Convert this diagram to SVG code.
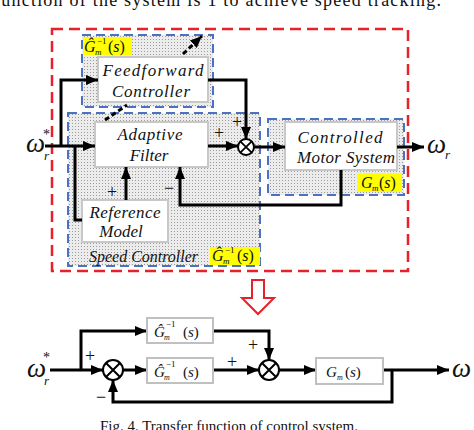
<svg xmlns="http://www.w3.org/2000/svg" width="474" height="430" viewBox="0 0 474 430">
<defs>
<pattern id="dots" width="3" height="3" patternUnits="userSpaceOnUse"><rect width="3" height="3" fill="#ececec"/><rect width="1" height="1" fill="#9a9a9a"/></pattern>
<marker id="ah" viewBox="0 0 12 10" markerUnits="userSpaceOnUse" markerWidth="12" markerHeight="10" refX="12" refY="5" orient="auto"><path d="M0,0 L12,5 L0,10 z" fill="#000"/></marker>
</defs>
<style>
.ln{fill:none;stroke:#000;stroke-width:3}
.blue{fill:url(#dots);stroke:#4a72c0;stroke-width:2;stroke-dasharray:9 5}
.wb{fill:#fff;stroke:#c8c8c8;stroke-width:2}
.lbl{font-style:italic;font-size:17px;fill:#111;text-anchor:middle}
.m{fill:#111}
.it{font-style:italic}
.sg{font-size:18px;fill:#111;text-anchor:middle}
.yl{fill:#ffff00}
.sum{fill:#fff;stroke:#000;stroke-width:2}
</style>
<rect width="474" height="430" fill="#fff"/>
<g font-family="Liberation Serif, serif">
<text x="-6" y="6" font-size="18" textLength="447" fill="#111">function of the system is 1 to achieve speed tracking.</text>

<rect x="52" y="29" width="356" height="242" fill="none" stroke="#e8202a" stroke-width="2.5" stroke-dasharray="11 6"/>

<g id="speed-controller">
<rect class="blue" x="68" y="113" width="192" height="153"/>
<text class="m it" font-size="16" x="89" y="262" textLength="109">Speed Controller</text>
<rect class="yl" x="210" y="247" width="50" height="18"/>
<text class="m it" font-size="16" x="212" y="261">Ĝ</text>
<text class="m it" font-size="9" x="223" y="264">m</text>
<text class="m" font-size="9" x="225" y="253">−1</text>
<text class="m" font-size="16" x="237" y="261">(<tspan class="it">s</tspan>)</text>
</g>

<g id="feedforward">
<rect class="blue" x="82" y="35" width="131" height="72"/>
<rect class="yl" x="83" y="37" width="49" height="18"/>
<text class="m it" font-size="16" x="84" y="52">Ĝ</text>
<text class="m it" font-size="9" x="95" y="55">m</text>
<text class="m" font-size="9" x="97" y="44">−1</text>
<text class="m" font-size="16" x="108" y="52">(<tspan class="it">s</tspan>)</text>
<rect class="wb" x="98" y="57" width="110" height="45"/>
<text class="lbl" x="153" y="76" textLength="101">Feedforward</text>
<text class="lbl" x="151" y="97" textLength="78">Controller</text>
</g>

<g id="adaptive-filter">
<rect class="wb" x="95" y="122" width="113" height="45"/>
<text class="lbl" x="150" y="140" textLength="65">Adaptive</text>
<text class="lbl" x="149" y="161">Filter</text>
</g>

<g id="reference-model">
<rect class="wb" x="82" y="200" width="86" height="42"/>
<text class="lbl" x="125" y="218" textLength="71">Reference</text>
<text class="lbl" x="121" y="237">Model</text>
</g>

<g id="motor-system">
<rect class="blue" x="268" y="119" width="136" height="76"/>
<rect class="wb" x="285" y="122" width="112" height="48"/>
<text class="lbl" x="340" y="143" textLength="85">Controlled</text>
<text class="lbl" x="346" y="163" textLength="98">Motor System</text>
<rect class="yl" x="357" y="173" width="45" height="19"/>
<text class="m it" font-size="16" x="361" y="188">G</text>
<text class="m it" font-size="9" x="372" y="191">m</text>
<text class="m" font-size="16" x="379" y="188">(<tspan class="it">s</tspan>)</text>
</g>

<g id="sum-top">
<circle class="sum" cx="246" cy="147" r="8"/>
<path d="M240.3,141.3 L251.7,152.7 M251.7,141.3 L240.3,152.7" stroke="#000" stroke-width="1.8"/>
</g>

<g id="labels-top">
<text class="m it" font-size="27" x="26" y="152">ω</text>
<text class="m it" font-size="13" x="44" y="160">r</text>
<text class="m" font-size="14" x="43" y="139">*</text>
<text class="m it" font-size="27" x="427" y="153">ω</text>
<text class="m it" font-size="13" x="445" y="159">r</text>
</g>

<g id="connectors">
<path class="ln" d="M45,146 H95" marker-end="url(#ah)"/>
<path class="ln" d="M61,146 V80 H98" marker-end="url(#ah)"/>
<path class="ln" d="M75,146 V220 H82"/>
<path class="ln" d="M126,200 V167" marker-end="url(#ah)"/>
<path class="ln" d="M341,170 V205 H180 V167" marker-end="url(#ah)"/>
<path class="ln" d="M208,146 H238" marker-end="url(#ah)"/>
<path class="ln" d="M208,80 H246 V139" marker-end="url(#ah)"/>
<path class="ln" d="M254,147 H285" marker-end="url(#ah)"/>
<path class="ln" d="M397,147 H424" marker-end="url(#ah)"/>
<path d="M183,54 L202,36" fill="none" stroke="#000" stroke-width="3" stroke-dasharray="5 3" marker-end="url(#ah)"/>
<path d="M105,120 L127,105" fill="none" stroke="#000" stroke-width="3" stroke-dasharray="5 3"/>
<text class="sg" x="219" y="139">+</text>
<text class="sg" x="237" y="128">+</text>
<text class="sg" x="112" y="198">+</text>
<text class="sg" x="169" y="194">−</text>

<path class="ln" d="M50,370 H103" marker-end="url(#ah)"/>
<path class="ln" d="M81,370 V331 H147" marker-end="url(#ah)"/>
<path class="ln" d="M123,370 H147" marker-end="url(#ah)"/>
<path class="ln" d="M213,370 H259" marker-end="url(#ah)"/>
<path class="ln" d="M213,331 H269 V360" marker-end="url(#ah)"/>
<path class="ln" d="M279,370 H316" marker-end="url(#ah)"/>
<path class="ln" d="M383,370 H449" marker-end="url(#ah)"/>
<path class="ln" d="M392,370 V402 H113 V380" marker-end="url(#ah)"/>
<text class="sg" x="90" y="362">+</text>
<text class="sg" x="101" y="403">−</text>
<text class="sg" x="232" y="368">+</text>
<text class="sg" x="253" y="351">+</text>
</g>

<path id="red-arrow" d="M252,280 H264 V298 H274 L258,314 L242,298 H252 Z" fill="#fff" stroke="#e8202a" stroke-width="2"/>

<g id="block-ff2">
<rect x="147" y="318" width="66" height="25" fill="#fff" stroke="#c0c0c0" stroke-width="2"/>
<text class="m it" font-size="15" x="154" y="337">Ĝ</text>
<text class="m it" font-size="8" x="164" y="340">m</text>
<text class="m" font-size="9" x="166" y="327">−1</text>
<text class="m" font-size="15" x="183" y="337">(<tspan class="it">s</tspan>)</text>
</g>
<g id="block-inv">
<rect x="147" y="358" width="66" height="25" fill="#fff" stroke="#c0c0c0" stroke-width="2"/>
<text class="m it" font-size="15" x="154" y="377">Ĝ</text>
<text class="m it" font-size="8" x="164" y="380">m</text>
<text class="m" font-size="9" x="166" y="367">−1</text>
<text class="m" font-size="15" x="183" y="377">(<tspan class="it">s</tspan>)</text>
</g>
<g id="block-gm">
<rect x="316" y="358" width="67" height="26" fill="#fff" stroke="#c0c0c0" stroke-width="2"/>
<text class="m it" font-size="15" x="326" y="377">G</text>
<text class="m it" font-size="8" x="337" y="380">m</text>
<text class="m" font-size="15" x="345" y="377">(<tspan class="it">s</tspan>)</text>
</g>
<g id="sum1">
<circle class="sum" cx="113" cy="370" r="10"/>
<path d="M106,363 L120,377 M120,363 L106,377" stroke="#000" stroke-width="2"/>
</g>
<g id="sum2">
<circle class="sum" cx="269" cy="370" r="10"/>
<path d="M262,363 L276,377 M276,363 L262,377" stroke="#000" stroke-width="2"/>
</g>
<g id="labels-bottom">
<text class="m it" font-size="27" x="27" y="377">ω</text>
<text class="m it" font-size="13" x="44" y="385">r</text>
<text class="m" font-size="14" x="43" y="362">*</text>
<text class="m it" font-size="27" x="452" y="377">ω</text>
</g>
<text x="100" y="431" font-size="15" fill="#111">Fig. 4. Transfer function of control system.</text>
</g>
</svg>
